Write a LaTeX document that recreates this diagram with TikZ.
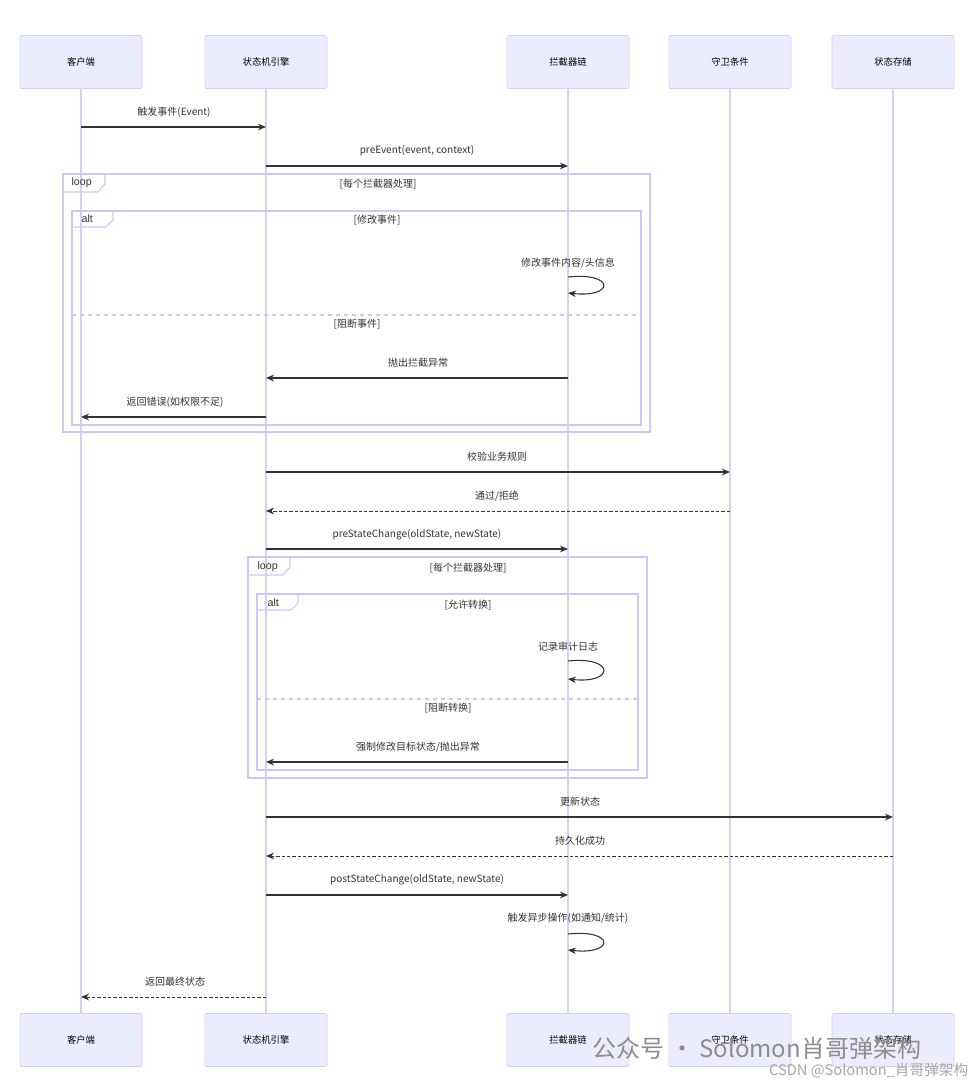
\documentclass[tikz,border=0pt]{standalone}
\usepackage{fontspec}
\setmainfont{Liberation Sans}
\newfontfamily\cjk{Noto Sans CJK SC}
\usetikzlibrary{arrows.meta,patterns}
\definecolor{actfill}{HTML}{ECECFF}
\definecolor{actline}{HTML}{D6CCF5}
\definecolor{lifeline}{HTML}{D8D0F2}
\definecolor{frame}{HTML}{CFC6F2}
\definecolor{msg}{HTML}{333333}
\begin{document}
\begin{tikzpicture}[x=0.75pt,y=-0.75pt,
  actor/.style={draw=actline,fill=actfill,minimum width=91.5pt,minimum height=39.75pt,rounded corners=1pt,font=\cjk\fontsize{7}{8}\selectfont,inner sep=0pt},
  life/.style={draw=lifeline,line width=0.9pt},
  m/.style={draw=msg,line width=0.8pt,-{Stealth[length=6pt,width=5pt]}},
  r/.style={m,dashed,dash pattern=on 2.5pt off 1.5pt,line width=0.6pt},
  lab/.style={font=\cjk\fontsize{7.5}{9}\selectfont,text=msg,inner sep=1pt},
  fr/.style={draw=frame,line width=0.8pt},
  tag/.style={font=\fontsize{8}{9}\selectfont,text=msg,anchor=west,inner sep=1pt}]
\useasboundingbox (0,0) rectangle (976,1087);
% actors
\foreach \n/\x/\t in {c/81/客户端,e/266/状态机引擎,i/568/拦截器链,g/730/守卫条件,s/893/状态存储}{
  \node[actor] (\n t) at (\x,62) {\t};
  \node[actor] (\n b) at (\x,1040) {\t};
  \draw[life] (\n t.south) -- (\n b.north);
}
% frames
\draw[fr] (63,174) rectangle (650,432);
\draw[fr] (63,174) -- (105,174) -- (105,184) -- (98,192) -- (63,192);
\node[tag] at (70,183) {loop};
\node[lab] at (378,184) {[每个拦截器处理]};
\draw[fr] (72,211) rectangle (641,425);
\draw[fr] (72,211) -- (113,211) -- (113,220) -- (106,227) -- (72,227);
\node[tag] at (80,219) {alt};
\node[lab] at (377,220) {[修改事件]};
\draw[fr,dashed] (72,315) -- (641,315);
\node[lab] at (357,324) {[阻断事件]};

\draw[fr] (248,557) rectangle (647,778);
\draw[fr] (248,557) -- (290,557) -- (290,567) -- (283,575) -- (248,575);
\node[tag] at (256,567) {loop};
\node[lab] at (468,568) {[每个拦截器处理]};
\draw[fr] (257,594) rectangle (638,770);
\draw[fr] (257,594) -- (298,594) -- (298,603) -- (291,610) -- (257,610);
\node[tag] at (266,603) {alt};
\node[lab] at (468,605) {[允许转换]};
\draw[fr,dashed] (257,699) -- (638,699);
\node[lab] at (448,708) {[阻断转换]};

% message coordinates
\foreach \y in {127,166,378,417,472,511,549,762,817,856,895,997}{
  \coordinate (c\y) at (81,\y); \coordinate (e\y) at (266,\y);
  \coordinate (i\y) at (568,\y); \coordinate (g\y) at (730,\y); \coordinate (s\y) at (893,\y);
}
\draw[m] (c127) -- (e127); \node[lab] at (174,112) {触发事件(Event)};
\draw[m] (e166) -- (i166); \node[lab] at (417,151) {preEvent(event, context)};
\coordinate (a1) at (568,277); \coordinate (a2) at (568,293);
\draw[m] (a1) .. controls (615,272) and (615,298) .. (a2);
\node[lab] at (568,263) {修改事件内容/头信息};
\draw[m] (i378) -- (e378); \node[lab] at (418,363) {抛出拦截异常};
\draw[m] (e417) -- (c417); \node[lab] at (175,402) {返回错误(如权限不足)};
\draw[m] (e472) -- (g472); \node[lab] at (497,457) {校验业务规则};
\draw[r] (g511) -- (e511); \node[lab] at (497,496) {通过/拒绝};
\draw[m] (e549) -- (i549); \node[lab] at (417,535) {preStateChange(oldState, newState)};
\coordinate (b1) at (568,661); \coordinate (b2) at (568,679);
\draw[m] (b1) .. controls (615,656) and (615,684) .. (b2);
\node[lab] at (568,647) {记录审计日志};
\draw[m] (i762) -- (e762); \node[lab] at (418,747) {强制修改目标状态/抛出异常};
\draw[m] (e817) -- (s817); \node[lab] at (580,802) {更新状态};
\draw[r] (s856) -- (e856); \node[lab] at (580,841) {持久化成功};
\draw[m] (e895) -- (i895); \node[lab] at (417,880) {postStateChange(oldState, newState)};
\coordinate (d1) at (568,934); \coordinate (d2) at (568,950);
\draw[m] (d1) .. controls (615,929) and (615,955) .. (d2);
\node[lab] at (568,918) {触发异步操作(如通知/统计)};
\draw[r] (e997) -- (c997); \node[lab] at (175,982) {返回最终状态};
% watermark
\node[font=\cjk\fontsize{18}{20}\selectfont,text=black!45,anchor=west] (w1) at (588,1048) {公众号 · Solomon肖哥弹架构};
\node[font=\cjk\fontsize{11}{12}\selectfont,text=black!35,anchor=east] (w2) at (973,1071) {CSDN @Solomon\_肖哥弹架构};
\end{tikzpicture}
\end{document}
